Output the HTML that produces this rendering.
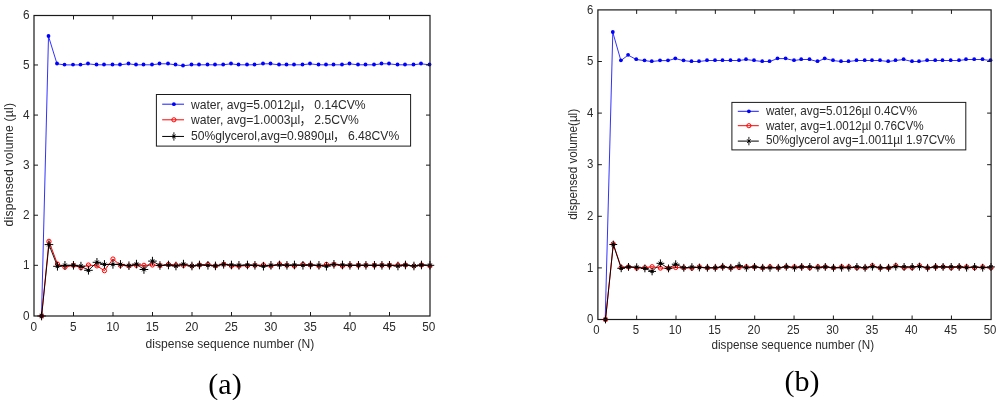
<!DOCTYPE html>
<html lang="en"><head><meta charset="utf-8"><title>Dispensed volume vs dispense sequence number</title>
<style>html,body{margin:0;padding:0;background:#fff}body{width:1000px;height:400px;overflow:hidden}svg{display:block}
text{font-family:"Liberation Sans","Noto Sans CJK SC",sans-serif}
.cap text{font-family:"Liberation Serif",serif}</style></head>
<body>
<svg width="1000" height="400" viewBox="0 0 1000 400">
<rect width="1000" height="400" fill="#fff"/>
<polyline points="41.5,316.3 48.5,36.3 57,63.8 64.5,64.9 73,64.9 80.5,64.9 88,63.8 96.5,64.8 104,64.8 112.5,64.8 120,64.8 128.5,63.8 136,64.8 143.5,64.8 152,64.8 159.5,63.8 168,63.8 175.5,64.8 183,65.8 191.5,64.8 199,64.8 207.5,64.8 215,64.8 223.2,64.8 231,63.8 238.5,64.8 247,64.8 254.5,64.8 263,63.8 270.5,63.8 279,64.8 286.5,64.8 294,64.8 302.5,64.8 310,63.8 318.5,64.8 326,64.8 333.5,64.8 342,64.8 349.5,63.8 358,64.8 365.5,64.8 374,64.8 381.5,63.8 389,63.8 397.5,64.8 405,64.8 413.5,64.8 421,63.8 429.5,64.8" fill="none" stroke="#1a1aff" stroke-width="0.9"/>
<g fill="#0000ff"><circle cx="41.5" cy="316" r="1.9"/><circle cx="48.5" cy="36" r="1.9"/><circle cx="57" cy="63.5" r="1.9"/><circle cx="64.5" cy="64.6" r="1.9"/><circle cx="73" cy="64.6" r="1.9"/><circle cx="80.5" cy="64.6" r="1.9"/><circle cx="88" cy="63.5" r="1.9"/><circle cx="96.5" cy="64.5" r="1.9"/><circle cx="104" cy="64.5" r="1.9"/><circle cx="112.5" cy="64.5" r="1.9"/><circle cx="120" cy="64.5" r="1.9"/><circle cx="128.5" cy="63.5" r="1.9"/><circle cx="136" cy="64.5" r="1.9"/><circle cx="143.5" cy="64.5" r="1.9"/><circle cx="152" cy="64.5" r="1.9"/><circle cx="159.5" cy="63.5" r="1.9"/><circle cx="168" cy="63.5" r="1.9"/><circle cx="175.5" cy="64.5" r="1.9"/><circle cx="183" cy="65.5" r="1.9"/><circle cx="191.5" cy="64.5" r="1.9"/><circle cx="199" cy="64.5" r="1.9"/><circle cx="207.5" cy="64.5" r="1.9"/><circle cx="215" cy="64.5" r="1.9"/><circle cx="223.2" cy="64.5" r="1.9"/><circle cx="231" cy="63.5" r="1.9"/><circle cx="238.5" cy="64.5" r="1.9"/><circle cx="247" cy="64.5" r="1.9"/><circle cx="254.5" cy="64.5" r="1.9"/><circle cx="263" cy="63.5" r="1.9"/><circle cx="270.5" cy="63.5" r="1.9"/><circle cx="279" cy="64.5" r="1.9"/><circle cx="286.5" cy="64.5" r="1.9"/><circle cx="294" cy="64.5" r="1.9"/><circle cx="302.5" cy="64.5" r="1.9"/><circle cx="310" cy="63.5" r="1.9"/><circle cx="318.5" cy="64.5" r="1.9"/><circle cx="326" cy="64.5" r="1.9"/><circle cx="333.5" cy="64.5" r="1.9"/><circle cx="342" cy="64.5" r="1.9"/><circle cx="349.5" cy="63.5" r="1.9"/><circle cx="358" cy="64.5" r="1.9"/><circle cx="365.5" cy="64.5" r="1.9"/><circle cx="374" cy="64.5" r="1.9"/><circle cx="381.5" cy="63.5" r="1.9"/><circle cx="389" cy="63.5" r="1.9"/><circle cx="397.5" cy="64.5" r="1.9"/><circle cx="405" cy="64.5" r="1.9"/><circle cx="413.5" cy="64.5" r="1.9"/><circle cx="421" cy="63.5" r="1.9"/><circle cx="429.5" cy="64.5" r="1.9"/></g>
<polyline points="41.6,316 48.95,241.3 57.45,264 64.95,267.2 73.45,265.3 80.95,267.7 88.45,265 96.95,265.9 104.45,270.7 112.95,259 120.45,265.3 128.95,265.9 136.45,265.3 143.95,265.3 152.45,265 159.95,265.5 168.45,264.4 175.95,265 183.45,265.3 191.95,266 199.45,265 207.95,264.4 215.45,265.9 223.65,264.3 231.45,266 238.95,266 247.45,265.7 254.95,265.3 263.45,265 270.95,266 279.45,264 286.95,265.3 294.45,266 302.95,264.4 310.45,265 318.95,266 326.45,264.4 333.95,264.5 342.45,266 349.95,265.3 358.45,265.3 365.95,265.3 374.45,265.3 381.95,265.3 389.45,265.3 397.95,265 405.45,265 413.95,266 421.45,265 429.95,266" fill="none" stroke="#ff0000" stroke-width="1"/>
<g fill="none" stroke="#ff0000" stroke-width="1"><circle cx="41.6" cy="316" r="2.1"/><circle cx="48.95" cy="241.3" r="2.1"/><circle cx="57.45" cy="264" r="2.1"/><circle cx="64.95" cy="267.2" r="2.1"/><circle cx="73.45" cy="265.3" r="2.1"/><circle cx="80.95" cy="267.7" r="2.1"/><circle cx="88.45" cy="265" r="2.1"/><circle cx="96.95" cy="265.9" r="2.1"/><circle cx="104.45" cy="270.7" r="2.1"/><circle cx="112.95" cy="259" r="2.1"/><circle cx="120.45" cy="265.3" r="2.1"/><circle cx="128.95" cy="265.9" r="2.1"/><circle cx="136.45" cy="265.3" r="2.1"/><circle cx="143.95" cy="265.3" r="2.1"/><circle cx="152.45" cy="265" r="2.1"/><circle cx="159.95" cy="265.5" r="2.1"/><circle cx="168.45" cy="264.4" r="2.1"/><circle cx="175.95" cy="265" r="2.1"/><circle cx="183.45" cy="265.3" r="2.1"/><circle cx="191.95" cy="266" r="2.1"/><circle cx="199.45" cy="265" r="2.1"/><circle cx="207.95" cy="264.4" r="2.1"/><circle cx="215.45" cy="265.9" r="2.1"/><circle cx="223.65" cy="264.3" r="2.1"/><circle cx="231.45" cy="266" r="2.1"/><circle cx="238.95" cy="266" r="2.1"/><circle cx="247.45" cy="265.7" r="2.1"/><circle cx="254.95" cy="265.3" r="2.1"/><circle cx="263.45" cy="265" r="2.1"/><circle cx="270.95" cy="266" r="2.1"/><circle cx="279.45" cy="264" r="2.1"/><circle cx="286.95" cy="265.3" r="2.1"/><circle cx="294.45" cy="266" r="2.1"/><circle cx="302.95" cy="264.4" r="2.1"/><circle cx="310.45" cy="265" r="2.1"/><circle cx="318.95" cy="266" r="2.1"/><circle cx="326.45" cy="264.4" r="2.1"/><circle cx="333.95" cy="264.5" r="2.1"/><circle cx="342.45" cy="266" r="2.1"/><circle cx="349.95" cy="265.3" r="2.1"/><circle cx="358.45" cy="265.3" r="2.1"/><circle cx="365.95" cy="265.3" r="2.1"/><circle cx="374.45" cy="265.3" r="2.1"/><circle cx="381.95" cy="265.3" r="2.1"/><circle cx="389.45" cy="265.3" r="2.1"/><circle cx="397.95" cy="265" r="2.1"/><circle cx="405.45" cy="265" r="2.1"/><circle cx="413.95" cy="266" r="2.1"/><circle cx="421.45" cy="265" r="2.1"/><circle cx="429.95" cy="266" r="2.1"/></g>
<polyline points="41.6,316 48.95,244.6 57.45,266.3 64.95,265.3 73.45,265.3 80.95,266.1 88.45,270.3 96.95,262.3 104.45,264.4 112.95,264.4 120.45,264.4 128.95,265.7 136.45,264.1 143.95,269.5 152.45,261.1 159.95,265.5 168.45,265 175.95,266 183.45,264.1 191.95,266 199.45,265 207.95,265.3 215.45,265.9 223.65,264.3 231.45,265 238.95,265.3 247.45,265 254.95,265.3 263.45,266.2 270.95,265.3 279.45,265 286.95,265.3 294.45,265 302.95,265.3 310.45,265 318.95,265.3 326.45,266.2 333.95,264.3 342.45,265 349.95,265.3 358.45,265.3 365.95,265.3 374.45,265.3 381.95,265.3 389.45,265.3 397.95,266 405.45,265 413.95,266 421.45,265 429.95,265.3" fill="none" stroke="#000" stroke-width="0.9"/>
<path fill="none" stroke="#000" stroke-width="1" d="M37.3 316H45.9M41.6 311.7V320.3M39.76 314.16L43.44 317.84M39.76 317.84L43.44 314.16M44.65 244.6H53.25M48.95 240.3V248.9M47.11 242.76L50.79 246.44M47.11 246.44L50.79 242.76M53.15 266.3H61.75M57.45 262V270.6M55.61 264.46L59.29 268.14M55.61 268.14L59.29 264.46M60.65 265.3H69.25M64.95 261V269.6M63.11 263.46L66.79 267.14M63.11 267.14L66.79 263.46M69.15 265.3H77.75M73.45 261V269.6M71.61 263.46L75.29 267.14M71.61 267.14L75.29 263.46M76.65 266.1H85.25M80.95 261.8V270.4M79.11 264.26L82.79 267.94M79.11 267.94L82.79 264.26M84.15 270.3H92.75M88.45 266V274.6M86.61 268.46L90.29 272.14M86.61 272.14L90.29 268.46M92.65 262.3H101.25M96.95 258V266.6M95.11 260.46L98.79 264.14M95.11 264.14L98.79 260.46M100.15 264.4H108.75M104.45 260.1V268.7M102.61 262.56L106.29 266.24M102.61 266.24L106.29 262.56M108.65 264.4H117.25M112.95 260.1V268.7M111.11 262.56L114.79 266.24M111.11 266.24L114.79 262.56M116.15 264.4H124.75M120.45 260.1V268.7M118.61 262.56L122.29 266.24M118.61 266.24L122.29 262.56M124.65 265.7H133.25M128.95 261.4V270M127.11 263.86L130.79 267.54M127.11 267.54L130.79 263.86M132.15 264.1H140.75M136.45 259.8V268.4M134.61 262.26L138.29 265.94M134.61 265.94L138.29 262.26M139.65 269.5H148.25M143.95 265.2V273.8M142.11 267.66L145.79 271.34M142.11 271.34L145.79 267.66M148.15 261.1H156.75M152.45 256.8V265.4M150.61 259.26L154.29 262.94M150.61 262.94L154.29 259.26M155.65 265.5H164.25M159.95 261.2V269.8M158.11 263.66L161.79 267.34M158.11 267.34L161.79 263.66M164.15 265H172.75M168.45 260.7V269.3M166.61 263.16L170.29 266.84M166.61 266.84L170.29 263.16M171.65 266H180.25M175.95 261.7V270.3M174.11 264.16L177.79 267.84M174.11 267.84L177.79 264.16M179.15 264.1H187.75M183.45 259.8V268.4M181.61 262.26L185.29 265.94M181.61 265.94L185.29 262.26M187.65 266H196.25M191.95 261.7V270.3M190.11 264.16L193.79 267.84M190.11 267.84L193.79 264.16M195.15 265H203.75M199.45 260.7V269.3M197.61 263.16L201.29 266.84M197.61 266.84L201.29 263.16M203.65 265.3H212.25M207.95 261V269.6M206.11 263.46L209.79 267.14M206.11 267.14L209.79 263.46M211.15 265.9H219.75M215.45 261.6V270.2M213.61 264.06L217.29 267.74M213.61 267.74L217.29 264.06M219.35 264.3H227.95M223.65 260V268.6M221.81 262.46L225.49 266.14M221.81 266.14L225.49 262.46M227.15 265H235.75M231.45 260.7V269.3M229.61 263.16L233.29 266.84M229.61 266.84L233.29 263.16M234.65 265.3H243.25M238.95 261V269.6M237.11 263.46L240.79 267.14M237.11 267.14L240.79 263.46M243.15 265H251.75M247.45 260.7V269.3M245.61 263.16L249.29 266.84M245.61 266.84L249.29 263.16M250.65 265.3H259.25M254.95 261V269.6M253.11 263.46L256.79 267.14M253.11 267.14L256.79 263.46M259.15 266.2H267.75M263.45 261.9V270.5M261.61 264.36L265.29 268.04M261.61 268.04L265.29 264.36M266.65 265.3H275.25M270.95 261V269.6M269.11 263.46L272.79 267.14M269.11 267.14L272.79 263.46M275.15 265H283.75M279.45 260.7V269.3M277.61 263.16L281.29 266.84M277.61 266.84L281.29 263.16M282.65 265.3H291.25M286.95 261V269.6M285.11 263.46L288.79 267.14M285.11 267.14L288.79 263.46M290.15 265H298.75M294.45 260.7V269.3M292.61 263.16L296.29 266.84M292.61 266.84L296.29 263.16M298.65 265.3H307.25M302.95 261V269.6M301.11 263.46L304.79 267.14M301.11 267.14L304.79 263.46M306.15 265H314.75M310.45 260.7V269.3M308.61 263.16L312.29 266.84M308.61 266.84L312.29 263.16M314.65 265.3H323.25M318.95 261V269.6M317.11 263.46L320.79 267.14M317.11 267.14L320.79 263.46M322.15 266.2H330.75M326.45 261.9V270.5M324.61 264.36L328.29 268.04M324.61 268.04L328.29 264.36M329.65 264.3H338.25M333.95 260V268.6M332.11 262.46L335.79 266.14M332.11 266.14L335.79 262.46M338.15 265H346.75M342.45 260.7V269.3M340.61 263.16L344.29 266.84M340.61 266.84L344.29 263.16M345.65 265.3H354.25M349.95 261V269.6M348.11 263.46L351.79 267.14M348.11 267.14L351.79 263.46M354.15 265.3H362.75M358.45 261V269.6M356.61 263.46L360.29 267.14M356.61 267.14L360.29 263.46M361.65 265.3H370.25M365.95 261V269.6M364.11 263.46L367.79 267.14M364.11 267.14L367.79 263.46M370.15 265.3H378.75M374.45 261V269.6M372.61 263.46L376.29 267.14M372.61 267.14L376.29 263.46M377.65 265.3H386.25M381.95 261V269.6M380.11 263.46L383.79 267.14M380.11 267.14L383.79 263.46M385.15 265.3H393.75M389.45 261V269.6M387.61 263.46L391.29 267.14M387.61 267.14L391.29 263.46M393.65 266H402.25M397.95 261.7V270.3M396.11 264.16L399.79 267.84M396.11 267.84L399.79 264.16M401.15 265H409.75M405.45 260.7V269.3M403.61 263.16L407.29 266.84M403.61 266.84L407.29 263.16M409.65 266H418.25M413.95 261.7V270.3M412.11 264.16L415.79 267.84M412.11 267.84L415.79 264.16M417.15 265H425.75M421.45 260.7V269.3M419.61 263.16L423.29 266.84M419.61 266.84L423.29 263.16M425.65 265.3H434.25M429.95 261V269.6M428.11 263.46L431.79 267.14M428.11 267.14L431.79 263.46"/>
<g fill="#000"><circle cx="41.6" cy="316" r="1.3"/><circle cx="48.95" cy="244.6" r="1.3"/><circle cx="57.45" cy="266.3" r="1.3"/><circle cx="64.95" cy="265.3" r="1.3"/><circle cx="73.45" cy="265.3" r="1.3"/><circle cx="80.95" cy="266.1" r="1.3"/><circle cx="88.45" cy="270.3" r="1.3"/><circle cx="96.95" cy="262.3" r="1.3"/><circle cx="104.45" cy="264.4" r="1.3"/><circle cx="112.95" cy="264.4" r="1.3"/><circle cx="120.45" cy="264.4" r="1.3"/><circle cx="128.95" cy="265.7" r="1.3"/><circle cx="136.45" cy="264.1" r="1.3"/><circle cx="143.95" cy="269.5" r="1.3"/><circle cx="152.45" cy="261.1" r="1.3"/><circle cx="159.95" cy="265.5" r="1.3"/><circle cx="168.45" cy="265" r="1.3"/><circle cx="175.95" cy="266" r="1.3"/><circle cx="183.45" cy="264.1" r="1.3"/><circle cx="191.95" cy="266" r="1.3"/><circle cx="199.45" cy="265" r="1.3"/><circle cx="207.95" cy="265.3" r="1.3"/><circle cx="215.45" cy="265.9" r="1.3"/><circle cx="223.65" cy="264.3" r="1.3"/><circle cx="231.45" cy="265" r="1.3"/><circle cx="238.95" cy="265.3" r="1.3"/><circle cx="247.45" cy="265" r="1.3"/><circle cx="254.95" cy="265.3" r="1.3"/><circle cx="263.45" cy="266.2" r="1.3"/><circle cx="270.95" cy="265.3" r="1.3"/><circle cx="279.45" cy="265" r="1.3"/><circle cx="286.95" cy="265.3" r="1.3"/><circle cx="294.45" cy="265" r="1.3"/><circle cx="302.95" cy="265.3" r="1.3"/><circle cx="310.45" cy="265" r="1.3"/><circle cx="318.95" cy="265.3" r="1.3"/><circle cx="326.45" cy="266.2" r="1.3"/><circle cx="333.95" cy="264.3" r="1.3"/><circle cx="342.45" cy="265" r="1.3"/><circle cx="349.95" cy="265.3" r="1.3"/><circle cx="358.45" cy="265.3" r="1.3"/><circle cx="365.95" cy="265.3" r="1.3"/><circle cx="374.45" cy="265.3" r="1.3"/><circle cx="381.95" cy="265.3" r="1.3"/><circle cx="389.45" cy="265.3" r="1.3"/><circle cx="397.95" cy="266" r="1.3"/><circle cx="405.45" cy="265" r="1.3"/><circle cx="413.95" cy="266" r="1.3"/><circle cx="421.45" cy="265" r="1.3"/><circle cx="429.95" cy="265.3" r="1.3"/></g>
<rect x="34" y="15.5" width="396" height="300.5" fill="none" stroke="#1a1a1a" stroke-width="1.2"/>
<path d="M73.5 316v-4.0M73.5 15.5v4.0M113 316v-4.0M113 15.5v4.0M152.5 316v-4.0M152.5 15.5v4.0M192 316v-4.0M192 15.5v4.0M231.5 316v-4.0M231.5 15.5v4.0M271 316v-4.0M271 15.5v4.0M310.5 316v-4.0M310.5 15.5v4.0M350 316v-4.0M350 15.5v4.0M389.5 316v-4.0M389.5 15.5v4.0M34 265.32h4.0M430 265.32h-4.0M34 215.23h4.0M430 215.23h-4.0M34 165.15h4.0M430 165.15h-4.0M34 115.07h4.0M430 115.07h-4.0M34 64.98h4.0M430 64.98h-4.0" stroke="#1a1a1a" stroke-width="1" fill="none"/>
<g font-size="13.6" fill="#2b2b2b">
<text transform="translate(33.7 331) scale(0.868 1)" text-anchor="middle">0</text>
<text transform="translate(73.2 331) scale(0.868 1)" text-anchor="middle">5</text>
<text transform="translate(112.7 331) scale(0.868 1)" text-anchor="middle">10</text>
<text transform="translate(152.2 331) scale(0.868 1)" text-anchor="middle">15</text>
<text transform="translate(191.7 331) scale(0.868 1)" text-anchor="middle">20</text>
<text transform="translate(231.2 331) scale(0.868 1)" text-anchor="middle">25</text>
<text transform="translate(270.7 331) scale(0.868 1)" text-anchor="middle">30</text>
<text transform="translate(310.2 331) scale(0.868 1)" text-anchor="middle">35</text>
<text transform="translate(349.7 331) scale(0.868 1)" text-anchor="middle">40</text>
<text transform="translate(389.2 331) scale(0.868 1)" text-anchor="middle">45</text>
<text transform="translate(428.7 331) scale(0.868 1)" text-anchor="middle">50</text>
<text transform="translate(29.6 319.5) scale(0.868 1)" text-anchor="end">0</text>
<text transform="translate(29.6 269.42) scale(0.868 1)" text-anchor="end">1</text>
<text transform="translate(29.6 219.33) scale(0.868 1)" text-anchor="end">2</text>
<text transform="translate(29.6 169.25) scale(0.868 1)" text-anchor="end">3</text>
<text transform="translate(29.6 119.17) scale(0.868 1)" text-anchor="end">4</text>
<text transform="translate(29.6 69.08) scale(0.868 1)" text-anchor="end">5</text>
<text transform="translate(29.6 19) scale(0.868 1)" text-anchor="end">6</text>
</g>
<g font-size="13.0" fill="#2b2b2b">
<text transform="translate(229.9 347.5) scale(0.931 1)" text-anchor="middle">dispense sequence number (N)</text>
<text transform="translate(13 164.6) rotate(-90) scale(0.931 1)" text-anchor="middle" letter-spacing="0.27">dispensed volume (µl)</text>
</g>
<rect x="156.4" y="94.5" width="254.2" height="51.6" fill="#fff" stroke="#1a1a1a" stroke-width="1"/>
<path d="M162.2 104.2H184" stroke="#1a1aff" stroke-width="1"/>
<circle cx="173.9" cy="104.2" r="1.9" fill="#0000ff"/>
<text font-size="13.6" fill="#2b2b2b" transform="translate(191 108.7) scale(0.893 1)">water, avg=5.0012µl</text>
<text font-size="13.6" fill="#2b2b2b" transform="translate(299.6 108.7) scale(0.893 1)">，</text>
<text font-size="13.6" fill="#2b2b2b" transform="translate(314.3 108.7) scale(0.893 1)">0.14CV%</text>
<path d="M162.2 119.8H184" stroke="#ff0000" stroke-width="1"/>
<circle cx="173.9" cy="119.8" r="2.1" fill="none" stroke="#ff0000"/>
<text font-size="13.6" fill="#2b2b2b" transform="translate(191 123.9) scale(0.893 1)">water, avg=1.0003µl</text>
<text font-size="13.6" fill="#2b2b2b" transform="translate(299.6 123.9) scale(0.893 1)">，</text>
<text font-size="13.6" fill="#2b2b2b" transform="translate(314.3 123.9) scale(0.893 1)">2.5CV%</text>
<path d="M162.2 136.45H184" stroke="#000" stroke-width="1"/>
<path d="M173.9 132.25V140.65M172.06 134.61L175.74 138.29M172.06 138.29L175.74 134.61" stroke="#000" stroke-width="0.9" fill="none"/><circle cx="173.9" cy="136.45" r="1.1" fill="#000"/>
<text font-size="13.6" fill="#2b2b2b" transform="translate(191 139.9) scale(0.893 1)">50%glycerol,avg=0.9890µl</text>
<text font-size="13.6" fill="#2b2b2b" transform="translate(333 139.9) scale(0.893 1)">，</text>
<text font-size="13.6" fill="#2b2b2b" transform="translate(348 139.9) scale(0.893 1)">6.48CV%</text>
<polyline points="605.2,319.8 612.8,32.3 620.9,60.6 628.1,55.1 636.25,59.5 644.5,60.6 651.75,61.5 660,60.6 668,60.6 675.3,58.6 683.5,60.6 691.5,61.5 699,61.5 707,60.5 715,60.5 722.5,60.5 730.5,60.5 739,60.5 746,59.5 754,60.5 762.2,61.5 769.5,61.5 777.5,58.6 785.6,58.6 794,60.5 801.2,59.5 809.5,59.5 817.5,61.5 824.7,58.6 833,60.5 841,61.5 848.5,61.5 856.5,60.5 864.7,60.5 872,60.5 880,60.5 888.2,61.5 895.5,60.5 903.6,59.5 912,61.5 919,61.5 927.1,60.5 935.2,60.5 942.5,60.5 950.7,60.5 959,60.5 966,59.5 974.2,59.5 982.5,59.5 990.5,60.5" fill="none" stroke="#1a1aff" stroke-width="0.9"/>
<g fill="#0000ff"><circle cx="605.2" cy="319.5" r="1.9"/><circle cx="612.8" cy="32" r="1.9"/><circle cx="620.9" cy="60.3" r="1.9"/><circle cx="628.1" cy="54.8" r="1.9"/><circle cx="636.25" cy="59.2" r="1.9"/><circle cx="644.5" cy="60.3" r="1.9"/><circle cx="651.75" cy="61.2" r="1.9"/><circle cx="660" cy="60.3" r="1.9"/><circle cx="668" cy="60.3" r="1.9"/><circle cx="675.3" cy="58.3" r="1.9"/><circle cx="683.5" cy="60.3" r="1.9"/><circle cx="691.5" cy="61.2" r="1.9"/><circle cx="699" cy="61.2" r="1.9"/><circle cx="707" cy="60.2" r="1.9"/><circle cx="715" cy="60.2" r="1.9"/><circle cx="722.5" cy="60.2" r="1.9"/><circle cx="730.5" cy="60.2" r="1.9"/><circle cx="739" cy="60.2" r="1.9"/><circle cx="746" cy="59.2" r="1.9"/><circle cx="754" cy="60.2" r="1.9"/><circle cx="762.2" cy="61.2" r="1.9"/><circle cx="769.5" cy="61.2" r="1.9"/><circle cx="777.5" cy="58.3" r="1.9"/><circle cx="785.6" cy="58.3" r="1.9"/><circle cx="794" cy="60.2" r="1.9"/><circle cx="801.2" cy="59.2" r="1.9"/><circle cx="809.5" cy="59.2" r="1.9"/><circle cx="817.5" cy="61.2" r="1.9"/><circle cx="824.7" cy="58.3" r="1.9"/><circle cx="833" cy="60.2" r="1.9"/><circle cx="841" cy="61.2" r="1.9"/><circle cx="848.5" cy="61.2" r="1.9"/><circle cx="856.5" cy="60.2" r="1.9"/><circle cx="864.7" cy="60.2" r="1.9"/><circle cx="872" cy="60.2" r="1.9"/><circle cx="880" cy="60.2" r="1.9"/><circle cx="888.2" cy="61.2" r="1.9"/><circle cx="895.5" cy="60.2" r="1.9"/><circle cx="903.6" cy="59.2" r="1.9"/><circle cx="912" cy="61.2" r="1.9"/><circle cx="919" cy="61.2" r="1.9"/><circle cx="927.1" cy="60.2" r="1.9"/><circle cx="935.2" cy="60.2" r="1.9"/><circle cx="942.5" cy="60.2" r="1.9"/><circle cx="950.7" cy="60.2" r="1.9"/><circle cx="959" cy="60.2" r="1.9"/><circle cx="966" cy="59.2" r="1.9"/><circle cx="974.2" cy="59.2" r="1.9"/><circle cx="982.5" cy="59.2" r="1.9"/><circle cx="990.5" cy="60.2" r="1.9"/></g>
<polyline points="605.5,319.5 613.3,243.9 621.2,267.5 628.5,266.9 636.7,268.1 644.9,267.7 652.1,266.7 660.4,268.1 668.5,268.2 675.7,267.5 683.8,267.8 691.9,268.1 699.4,266.9 707.4,267.8 715.3,267.8 722.7,266.8 730.8,267.8 739.1,267.5 746.4,266.9 754.5,266.9 762.7,267.8 770,266.9 778.3,267.8 786.3,266.8 794.5,266.9 801.7,266.9 809.8,267.8 817.9,266.9 825.3,266.9 833.5,267.8 841.6,266.9 848.8,266.9 856.9,267.8 865.1,267.8 872.4,265.7 880.3,267.8 888.6,267.8 895.8,265.7 904.1,267.8 912.2,267.7 919.5,265.7 927.6,267.8 935.6,266.9 943.1,266.9 951.2,267.8 959.2,266.9 966.6,266.9 974.6,267.8 982.7,266.9 991,267.9" fill="none" stroke="#ff0000" stroke-width="1"/>
<g fill="none" stroke="#ff0000" stroke-width="1"><circle cx="605.5" cy="319.5" r="2.1"/><circle cx="613.3" cy="243.9" r="2.1"/><circle cx="621.2" cy="267.5" r="2.1"/><circle cx="628.5" cy="266.9" r="2.1"/><circle cx="636.7" cy="268.1" r="2.1"/><circle cx="644.9" cy="267.7" r="2.1"/><circle cx="652.1" cy="266.7" r="2.1"/><circle cx="660.4" cy="268.1" r="2.1"/><circle cx="668.5" cy="268.2" r="2.1"/><circle cx="675.7" cy="267.5" r="2.1"/><circle cx="683.8" cy="267.8" r="2.1"/><circle cx="691.9" cy="268.1" r="2.1"/><circle cx="699.4" cy="266.9" r="2.1"/><circle cx="707.4" cy="267.8" r="2.1"/><circle cx="715.3" cy="267.8" r="2.1"/><circle cx="722.7" cy="266.8" r="2.1"/><circle cx="730.8" cy="267.8" r="2.1"/><circle cx="739.1" cy="267.5" r="2.1"/><circle cx="746.4" cy="266.9" r="2.1"/><circle cx="754.5" cy="266.9" r="2.1"/><circle cx="762.7" cy="267.8" r="2.1"/><circle cx="770" cy="266.9" r="2.1"/><circle cx="778.3" cy="267.8" r="2.1"/><circle cx="786.3" cy="266.8" r="2.1"/><circle cx="794.5" cy="266.9" r="2.1"/><circle cx="801.7" cy="266.9" r="2.1"/><circle cx="809.8" cy="267.8" r="2.1"/><circle cx="817.9" cy="266.9" r="2.1"/><circle cx="825.3" cy="266.9" r="2.1"/><circle cx="833.5" cy="267.8" r="2.1"/><circle cx="841.6" cy="266.9" r="2.1"/><circle cx="848.8" cy="266.9" r="2.1"/><circle cx="856.9" cy="267.8" r="2.1"/><circle cx="865.1" cy="267.8" r="2.1"/><circle cx="872.4" cy="265.7" r="2.1"/><circle cx="880.3" cy="267.8" r="2.1"/><circle cx="888.6" cy="267.8" r="2.1"/><circle cx="895.8" cy="265.7" r="2.1"/><circle cx="904.1" cy="267.8" r="2.1"/><circle cx="912.2" cy="267.7" r="2.1"/><circle cx="919.5" cy="265.7" r="2.1"/><circle cx="927.6" cy="267.8" r="2.1"/><circle cx="935.6" cy="266.9" r="2.1"/><circle cx="943.1" cy="266.9" r="2.1"/><circle cx="951.2" cy="267.8" r="2.1"/><circle cx="959.2" cy="266.9" r="2.1"/><circle cx="966.6" cy="266.9" r="2.1"/><circle cx="974.6" cy="267.8" r="2.1"/><circle cx="982.7" cy="266.9" r="2.1"/><circle cx="991" cy="267.9" r="2.1"/></g>
<polyline points="605.5,319.5 613.3,244.5 621.2,268.3 628.5,266.9 636.7,267.2 644.9,268.4 652.1,271.4 660.4,263.3 668.5,268.4 675.7,264.2 683.8,267.8 691.9,267.1 699.4,267.5 707.4,267.8 715.3,267.8 722.7,266.8 730.8,267.8 739.1,265.7 746.4,267.8 754.5,266.9 762.7,267.8 770,267.8 778.3,267.8 786.3,266.8 794.5,267.8 801.7,266.9 809.8,266.9 817.9,267.8 825.3,266.9 833.5,267.8 841.6,267.7 848.8,267.7 856.9,266.9 865.1,267.8 872.4,266.7 880.3,267.8 888.6,267.8 895.8,266.6 904.1,266.9 912.2,266.9 919.5,266.6 927.6,267.8 935.6,266.9 943.1,266.9 951.2,266.9 959.2,266.9 966.6,267.7 974.6,266.9 982.7,267.7 991,266.9" fill="none" stroke="#000" stroke-width="0.9"/>
<path fill="none" stroke="#000" stroke-width="1" d="M601.6 319.5H609.4M605.5 315.6V323.4M603.8 317.8L607.2 321.2M603.8 321.2L607.2 317.8M609.4 244.5H617.2M613.3 240.6V248.4M611.6 242.8L615 246.2M611.6 246.2L615 242.8M617.3 268.3H625.1M621.2 264.4V272.2M619.5 266.6L622.9 270M619.5 270L622.9 266.6M624.6 266.9H632.4M628.5 263V270.8M626.8 265.2L630.2 268.6M626.8 268.6L630.2 265.2M632.8 267.2H640.6M636.7 263.3V271.1M635 265.5L638.4 268.9M635 268.9L638.4 265.5M641 268.4H648.8M644.9 264.5V272.3M643.2 266.7L646.6 270.1M643.2 270.1L646.6 266.7M648.2 271.4H656M652.1 267.5V275.3M650.4 269.7L653.8 273.1M650.4 273.1L653.8 269.7M656.5 263.3H664.3M660.4 259.4V267.2M658.7 261.6L662.1 265M658.7 265L662.1 261.6M664.6 268.4H672.4M668.5 264.5V272.3M666.8 266.7L670.2 270.1M666.8 270.1L670.2 266.7M671.8 264.2H679.6M675.7 260.3V268.1M674 262.5L677.4 265.9M674 265.9L677.4 262.5M679.9 267.8H687.7M683.8 263.9V271.7M682.1 266.1L685.5 269.5M682.1 269.5L685.5 266.1M688 267.1H695.8M691.9 263.2V271M690.2 265.4L693.6 268.8M690.2 268.8L693.6 265.4M695.5 267.5H703.3M699.4 263.6V271.4M697.7 265.8L701.1 269.2M697.7 269.2L701.1 265.8M703.5 267.8H711.3M707.4 263.9V271.7M705.7 266.1L709.1 269.5M705.7 269.5L709.1 266.1M711.4 267.8H719.2M715.3 263.9V271.7M713.6 266.1L717 269.5M713.6 269.5L717 266.1M718.8 266.8H726.6M722.7 262.9V270.7M721 265.1L724.4 268.5M721 268.5L724.4 265.1M726.9 267.8H734.7M730.8 263.9V271.7M729.1 266.1L732.5 269.5M729.1 269.5L732.5 266.1M735.2 265.7H743M739.1 261.8V269.6M737.4 264L740.8 267.4M737.4 267.4L740.8 264M742.5 267.8H750.3M746.4 263.9V271.7M744.7 266.1L748.1 269.5M744.7 269.5L748.1 266.1M750.6 266.9H758.4M754.5 263V270.8M752.8 265.2L756.2 268.6M752.8 268.6L756.2 265.2M758.8 267.8H766.6M762.7 263.9V271.7M761 266.1L764.4 269.5M761 269.5L764.4 266.1M766.1 267.8H773.9M770 263.9V271.7M768.3 266.1L771.7 269.5M768.3 269.5L771.7 266.1M774.4 267.8H782.2M778.3 263.9V271.7M776.6 266.1L780 269.5M776.6 269.5L780 266.1M782.4 266.8H790.2M786.3 262.9V270.7M784.6 265.1L788 268.5M784.6 268.5L788 265.1M790.6 267.8H798.4M794.5 263.9V271.7M792.8 266.1L796.2 269.5M792.8 269.5L796.2 266.1M797.8 266.9H805.6M801.7 263V270.8M800 265.2L803.4 268.6M800 268.6L803.4 265.2M805.9 266.9H813.7M809.8 263V270.8M808.1 265.2L811.5 268.6M808.1 268.6L811.5 265.2M814 267.8H821.8M817.9 263.9V271.7M816.2 266.1L819.6 269.5M816.2 269.5L819.6 266.1M821.4 266.9H829.2M825.3 263V270.8M823.6 265.2L827 268.6M823.6 268.6L827 265.2M829.6 267.8H837.4M833.5 263.9V271.7M831.8 266.1L835.2 269.5M831.8 269.5L835.2 266.1M837.7 267.7H845.5M841.6 263.8V271.6M839.9 266L843.3 269.4M839.9 269.4L843.3 266M844.9 267.7H852.7M848.8 263.8V271.6M847.1 266L850.5 269.4M847.1 269.4L850.5 266M853 266.9H860.8M856.9 263V270.8M855.2 265.2L858.6 268.6M855.2 268.6L858.6 265.2M861.2 267.8H869M865.1 263.9V271.7M863.4 266.1L866.8 269.5M863.4 269.5L866.8 266.1M868.5 266.7H876.3M872.4 262.8V270.6M870.7 265L874.1 268.4M870.7 268.4L874.1 265M876.4 267.8H884.2M880.3 263.9V271.7M878.6 266.1L882 269.5M878.6 269.5L882 266.1M884.7 267.8H892.5M888.6 263.9V271.7M886.9 266.1L890.3 269.5M886.9 269.5L890.3 266.1M891.9 266.6H899.7M895.8 262.7V270.5M894.1 264.9L897.5 268.3M894.1 268.3L897.5 264.9M900.2 266.9H908M904.1 263V270.8M902.4 265.2L905.8 268.6M902.4 268.6L905.8 265.2M908.3 266.9H916.1M912.2 263V270.8M910.5 265.2L913.9 268.6M910.5 268.6L913.9 265.2M915.6 266.6H923.4M919.5 262.7V270.5M917.8 264.9L921.2 268.3M917.8 268.3L921.2 264.9M923.7 267.8H931.5M927.6 263.9V271.7M925.9 266.1L929.3 269.5M925.9 269.5L929.3 266.1M931.7 266.9H939.5M935.6 263V270.8M933.9 265.2L937.3 268.6M933.9 268.6L937.3 265.2M939.2 266.9H947M943.1 263V270.8M941.4 265.2L944.8 268.6M941.4 268.6L944.8 265.2M947.3 266.9H955.1M951.2 263V270.8M949.5 265.2L952.9 268.6M949.5 268.6L952.9 265.2M955.3 266.9H963.1M959.2 263V270.8M957.5 265.2L960.9 268.6M957.5 268.6L960.9 265.2M962.7 267.7H970.5M966.6 263.8V271.6M964.9 266L968.3 269.4M964.9 269.4L968.3 266M970.7 266.9H978.5M974.6 263V270.8M972.9 265.2L976.3 268.6M972.9 268.6L976.3 265.2M978.8 267.7H986.6M982.7 263.8V271.6M981 266L984.4 269.4M981 269.4L984.4 266M987.1 266.9H994.9M991 263V270.8M989.3 265.2L992.7 268.6M989.3 268.6L992.7 265.2"/>
<g fill="#000"><circle cx="605.5" cy="319.5" r="1.3"/><circle cx="613.3" cy="244.5" r="1.3"/><circle cx="621.2" cy="268.3" r="1.3"/><circle cx="628.5" cy="266.9" r="1.3"/><circle cx="636.7" cy="267.2" r="1.3"/><circle cx="644.9" cy="268.4" r="1.3"/><circle cx="652.1" cy="271.4" r="1.3"/><circle cx="660.4" cy="263.3" r="1.3"/><circle cx="668.5" cy="268.4" r="1.3"/><circle cx="675.7" cy="264.2" r="1.3"/><circle cx="683.8" cy="267.8" r="1.3"/><circle cx="691.9" cy="267.1" r="1.3"/><circle cx="699.4" cy="267.5" r="1.3"/><circle cx="707.4" cy="267.8" r="1.3"/><circle cx="715.3" cy="267.8" r="1.3"/><circle cx="722.7" cy="266.8" r="1.3"/><circle cx="730.8" cy="267.8" r="1.3"/><circle cx="739.1" cy="265.7" r="1.3"/><circle cx="746.4" cy="267.8" r="1.3"/><circle cx="754.5" cy="266.9" r="1.3"/><circle cx="762.7" cy="267.8" r="1.3"/><circle cx="770" cy="267.8" r="1.3"/><circle cx="778.3" cy="267.8" r="1.3"/><circle cx="786.3" cy="266.8" r="1.3"/><circle cx="794.5" cy="267.8" r="1.3"/><circle cx="801.7" cy="266.9" r="1.3"/><circle cx="809.8" cy="266.9" r="1.3"/><circle cx="817.9" cy="267.8" r="1.3"/><circle cx="825.3" cy="266.9" r="1.3"/><circle cx="833.5" cy="267.8" r="1.3"/><circle cx="841.6" cy="267.7" r="1.3"/><circle cx="848.8" cy="267.7" r="1.3"/><circle cx="856.9" cy="266.9" r="1.3"/><circle cx="865.1" cy="267.8" r="1.3"/><circle cx="872.4" cy="266.7" r="1.3"/><circle cx="880.3" cy="267.8" r="1.3"/><circle cx="888.6" cy="267.8" r="1.3"/><circle cx="895.8" cy="266.6" r="1.3"/><circle cx="904.1" cy="266.9" r="1.3"/><circle cx="912.2" cy="266.9" r="1.3"/><circle cx="919.5" cy="266.6" r="1.3"/><circle cx="927.6" cy="267.8" r="1.3"/><circle cx="935.6" cy="266.9" r="1.3"/><circle cx="943.1" cy="266.9" r="1.3"/><circle cx="951.2" cy="266.9" r="1.3"/><circle cx="959.2" cy="266.9" r="1.3"/><circle cx="966.6" cy="267.7" r="1.3"/><circle cx="974.6" cy="266.9" r="1.3"/><circle cx="982.7" cy="267.7" r="1.3"/><circle cx="991" cy="266.9" r="1.3"/></g>
<rect x="597.9" y="9.9" width="393.2" height="309.6" fill="none" stroke="#1a1a1a" stroke-width="1.2"/>
<path d="M636.65 319.5v-4.0M636.65 9.9v4.0M676 319.5v-4.0M676 9.9v4.0M715.35 319.5v-4.0M715.35 9.9v4.0M754.7 319.5v-4.0M754.7 9.9v4.0M794.05 319.5v-4.0M794.05 9.9v4.0M833.4 319.5v-4.0M833.4 9.9v4.0M872.75 319.5v-4.0M872.75 9.9v4.0M912.1 319.5v-4.0M912.1 9.9v4.0M951.45 319.5v-4.0M951.45 9.9v4.0M597.9 267.9h4.0M991.1 267.9h-4.0M597.9 216.3h4.0M991.1 216.3h-4.0M597.9 164.7h4.0M991.1 164.7h-4.0M597.9 113.1h4.0M991.1 113.1h-4.0M597.9 61.5h4.0M991.1 61.5h-4.0" stroke="#1a1a1a" stroke-width="1" fill="none"/>
<g font-size="13.6" fill="#2b2b2b">
<text transform="translate(596.5 333.5) scale(0.839 1)" text-anchor="middle">0</text>
<text transform="translate(635.85 333.5) scale(0.839 1)" text-anchor="middle">5</text>
<text transform="translate(675.2 333.5) scale(0.839 1)" text-anchor="middle">10</text>
<text transform="translate(714.55 333.5) scale(0.839 1)" text-anchor="middle">15</text>
<text transform="translate(753.9 333.5) scale(0.839 1)" text-anchor="middle">20</text>
<text transform="translate(793.25 333.5) scale(0.839 1)" text-anchor="middle">25</text>
<text transform="translate(832.6 333.5) scale(0.839 1)" text-anchor="middle">30</text>
<text transform="translate(871.95 333.5) scale(0.839 1)" text-anchor="middle">35</text>
<text transform="translate(911.3 333.5) scale(0.839 1)" text-anchor="middle">40</text>
<text transform="translate(950.65 333.5) scale(0.839 1)" text-anchor="middle">45</text>
<text transform="translate(990 333.5) scale(0.839 1)" text-anchor="middle">50</text>
<text transform="translate(593.4 323.2) scale(0.839 1)" text-anchor="end">0</text>
<text transform="translate(593.4 271.6) scale(0.839 1)" text-anchor="end">1</text>
<text transform="translate(593.4 220) scale(0.839 1)" text-anchor="end">2</text>
<text transform="translate(593.4 168.4) scale(0.839 1)" text-anchor="end">3</text>
<text transform="translate(593.4 116.8) scale(0.839 1)" text-anchor="end">4</text>
<text transform="translate(593.4 65.2) scale(0.839 1)" text-anchor="end">5</text>
<text transform="translate(593.4 13.6) scale(0.839 1)" text-anchor="end">6</text>
</g>
<g font-size="12.5" fill="#2b2b2b">
<text transform="translate(792.8 348.7) scale(0.932 1)" text-anchor="middle">dispense sequence number (N)</text>
<text transform="translate(577 164.4) rotate(-90) scale(0.932 1)" text-anchor="middle" letter-spacing="0">dispensed volume(µl)</text>
</g>
<rect x="731.9" y="102.4" width="233.9" height="47.5" fill="#fff" stroke="#1a1a1a" stroke-width="1"/>
<path d="M737.8 111.3H758.8" stroke="#1a1aff" stroke-width="1"/>
<circle cx="748.9" cy="111.3" r="1.9" fill="#0000ff"/>
<text font-size="12.9" fill="#2b2b2b" transform="translate(765.9 115.4) scale(0.907 1)">water, avg=5.0126µl 0.4CV%</text>
<path d="M737.8 125.7H758.8" stroke="#ff0000" stroke-width="1"/>
<circle cx="748.9" cy="125.7" r="2.1" fill="none" stroke="#ff0000"/>
<text font-size="12.9" fill="#2b2b2b" transform="translate(765.9 129.7) scale(0.907 1)">water, avg=1.0012µl 0.76CV%</text>
<path d="M737.8 141.1H758.8" stroke="#000" stroke-width="1"/>
<path d="M748.9 136.9V145.3M747.06 139.26L750.74 142.94M747.06 142.94L750.74 139.26" stroke="#000" stroke-width="0.9" fill="none"/><circle cx="748.9" cy="141.1" r="1.1" fill="#000"/>
<text font-size="12.9" fill="#2b2b2b" transform="translate(765.9 144.4) scale(0.907 1)">50%glycerol avg=1.0011µl 1.97CV%</text>
<g class="cap" font-size="30" fill="#000">
<text x="225" y="393.6" text-anchor="middle">(a)</text>
<text x="802" y="390.5" text-anchor="middle">(b)</text>
</g>
</svg>
</body></html>
